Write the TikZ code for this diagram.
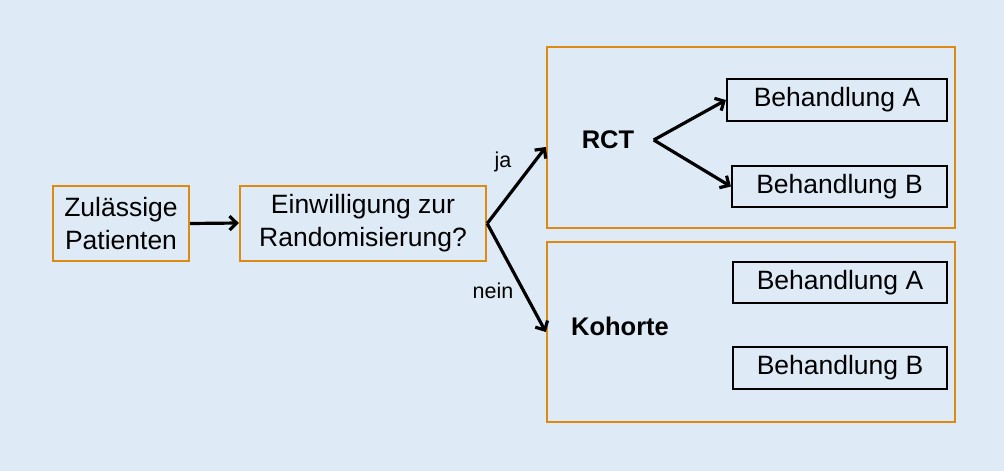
\documentclass[tikz,border=0pt]{standalone}
\usepackage{fontspec}
\setmainfont{Liberation Sans}
\usetikzlibrary{arrows.meta}
\definecolor{bg}{RGB}{222,235,247}
\definecolor{orng}{RGB}{220,138,18}
\begin{document}
\begin{tikzpicture}[x=1pt,y=-1pt,
  obox/.style={draw=orng,line width=2.4pt,inner sep=0pt,align=center,font=\fontsize{26.5}{33}\selectfont},
  bbox/.style={draw=black,line width=2.2pt,inner sep=0pt,font=\fontsize{26.5}{30}\selectfont},
  bigbox/.style={draw=orng,line width=2.4pt,inner sep=0pt},
  lbl/.style={font=\fontsize{25.5}{30}\selectfont\bfseries},
  small/.style={font=\fontsize{21.5}{24}\selectfont},
  arr/.style={line width=3.2pt,-{Straight Barb[length=7pt,width=14pt,line width=3.2pt]}}]
\fill[bg] (0,0) rectangle (1004,471);
\useasboundingbox (0,0) rectangle (1004,471);
\node[obox,minimum width=136pt,minimum height=75pt] (zul) at (121,223.5) {Zulässige\\Patienten};
\node[obox,minimum width=246pt,minimum height=75pt] (ein) at (363,223.5) {Einwilligung zur\\Randomisierung?};
\node[bigbox,minimum width=408pt,minimum height=181pt] (rct) at (751,137.5) {};
\node[bigbox,minimum width=408pt,minimum height=180pt] (koh) at (751,332) {};
\node[lbl] (rcttext) at (608,140) {RCT};
\node[lbl] (kohtext) at (620,326) {Kohorte};
\node[bbox,minimum width=220pt,minimum height=42pt] (ra) at (837,100) {Behandlung A};
\node[bbox,minimum width=215pt,minimum height=41pt] (rb) at (839.5,186.5) {Behandlung B};
\node[bbox,minimum width=214pt,minimum height=41pt] (ka) at (840,282.5) {Behandlung A};
\node[bbox,minimum width=214pt,minimum height=42pt] (kb) at (840,368) {Behandlung B};
\draw[arr] (zul.east) -- ([yshift=0.5pt]ein.west);
\draw[arr] (ein.east) -- ([yshift=-9.5pt]rct.west);
\draw[arr] (ein.east) -- (koh.west);
\node[small] (ja) at (503,162) {ja};
\node[small] (nein) at (493,291) {nein};
\draw[arr] ([xshift=16pt]rcttext.east) -- (ra.west);
\draw[arr] ([xshift=16pt]rcttext.east) -- (rb.west);
\end{tikzpicture}
\end{document}
